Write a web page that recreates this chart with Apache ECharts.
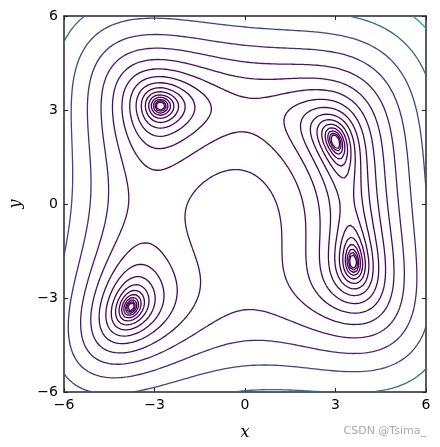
<!DOCTYPE html>
<html>
<head>
<meta charset="utf-8">
<script src="https://cdn.jsdelivr.net/npm/echarts@6/dist/echarts.min.js"></script>
<style>
html,body{margin:0;padding:0;background:#fff;}
#chart{width:440px;height:447px;}
</style>
</head>
<body>
<div id="chart"></div>
<script>
// ---- data ----
// Surface: Himmelblau function, f(x,y) = (x^2 + y - 11)^2 + (x + y^2 - 7)^2
const xRange = [-6, 6];
const yRange = [-6, 6];
const gridCount = 121;
// contour levels (log spaced)
const contourLevels = [0.68129, 1.1548, 1.9573, 3.3182, 5.6234, 9.5328, 16.155, 27.384, 46.416, 78.674,
  133.35, 226.06, 383.12, 649.38, 1100.7, 1865.6, 3162.3];
const colorRange = [0.01, 3162.3];
const xTickValues = [-6, -3, 0, 3, 6];
const yTickValues = [-6, -3, 0, 3, 6];
const xName = 'x';
const yName = 'y';
const watermark = 'CSDN @Tsima_';

function himmelblau(x, y) {
  const a = x * x + y - 11, b = x + y * y - 7;
  return a * a + b * b;
}

// viridis colormap stops
const viridis = ['#440154','#471365','#482475','#463480','#414487','#3b528b','#355f8d','#2f6c8e','#2a788e','#25848e','#21918c','#1e9c89','#22a884','#2fb47c','#44bf70','#5ec962','#7ad151','#9bd93c','#bddf26','#dfe318','#fde725'];
function hex2rgb(h){return [parseInt(h.substr(1,2),16),parseInt(h.substr(3,2),16),parseInt(h.substr(5,2),16)];}
function cmap(t){
  t = Math.max(0, Math.min(1, t));
  const p = t * (viridis.length - 1);
  const i = Math.min(Math.floor(p), viridis.length - 2);
  const f = p - i;
  const a = hex2rgb(viridis[i]), b = hex2rgb(viridis[i+1]);
  const c = a.map((v, k) => Math.round(v + (b[k] - v) * f));
  return 'rgb(' + c.join(',') + ')';
}

// ---- grid ----
const xs = [], ys = [];
for (let i = 0; i < gridCount; i++) {
  xs.push(xRange[0] + (xRange[1] - xRange[0]) * i / (gridCount - 1));
  ys.push(yRange[0] + (yRange[1] - yRange[0]) * i / (gridCount - 1));
}
const Z = [];
for (let j = 0; j < gridCount; j++) {
  const row = [];
  for (let i = 0; i < gridCount; i++) row.push(himmelblau(xs[i], ys[j]));
  Z.push(row);
}

// ---- marching squares ----
function contourLines(L) {
  const pts = {};
  const adj = {};
  function edgePoint(i0, j0, i1, j1) {
    const key = (i0 === i1 ? 'v' : 'h') + Math.min(i0, i1) + '_' + Math.min(j0, j1);
    if (!pts[key]) {
      const za = Z[j0][i0], zb = Z[j1][i1];
      const t = (L - za) / (zb - za);
      pts[key] = [xs[i0] + (xs[i1] - xs[i0]) * t, ys[j0] + (ys[j1] - ys[j0]) * t];
    }
    return key;
  }
  function link(a, b) {
    (adj[a] = adj[a] || []).push(b);
    (adj[b] = adj[b] || []).push(a);
  }
  for (let j = 0; j < gridCount - 1; j++) {
    for (let i = 0; i < gridCount - 1; i++) {
      const c = [[i, j], [i + 1, j], [i + 1, j + 1], [i, j + 1]];
      const above = c.map(p => Z[p[1]][p[0]] > L);
      const cross = [];
      for (let k = 0; k < 4; k++) {
        if (above[k] !== above[(k + 1) % 4]) cross.push(k);
      }
      if (cross.length === 2) {
        const ek = cross.map(k => { const a = c[k], b = c[(k + 1) % 4]; return edgePoint(a[0], a[1], b[0], b[1]); });
        link(ek[0], ek[1]);
      } else if (cross.length === 4) {
        const e = [0, 1, 2, 3].map(k => { const a = c[k], b = c[(k + 1) % 4]; return edgePoint(a[0], a[1], b[0], b[1]); });
        const center = (Z[j][i] + Z[j][i + 1] + Z[j + 1][i + 1] + Z[j + 1][i]) / 4 > L;
        if (center === above[0]) { link(e[0], e[1]); link(e[2], e[3]); }
        else { link(e[3], e[0]); link(e[1], e[2]); }
      }
    }
  }
  const used = {};
  const lines = [];
  function walk(start) {
    const path = [start];
    used[start] = true;
    let cur = start;
    while (true) {
      const nb = (adj[cur] || []).filter(n => !used[n]);
      if (!nb.length) {
        if ((adj[cur] || []).indexOf(start) >= 0 && path.length > 2) path.push(start);
        break;
      }
      cur = nb[0];
      used[cur] = true;
      path.push(cur);
    }
    return path.map(k => pts[k]);
  }
  Object.keys(adj).forEach(k => { if (!used[k] && adj[k].length === 1) lines.push(walk(k)); });
  Object.keys(adj).forEach(k => { if (!used[k]) lines.push(walk(k)); });
  return lines;
}

const lineData = [];
contourLevels.forEach(L => {
  const col = cmap((L - colorRange[0]) / (colorRange[1] - colorRange[0]));
  contourLines(L).forEach(path => {
    if (path.length > 1) lineData.push({ coords: path, lineStyle: { color: col } });
  });
});

const fmt = v => (v < 0 ? '\u2212' + Math.abs(v) : String(v));
const axisCommon = {
  type: 'value', min: -6, max: 6, interval: 3,
  splitLine: { show: false },
  axisLine: { show: true, onZero: false, lineStyle: { color: '#262626', width: 1.5 } },
  axisTick: { show: true, inside: true, length: 4, lineStyle: { color: '#262626', width: 1 } }
};
const labelStyle = { color: '#000', fontSize: 14, fontFamily: 'DejaVu Sans', margin: 6, formatter: fmt };

const chart = echarts.init(document.getElementById('chart'), null, { renderer: 'canvas' });
chart.setOption({
  animation: false,
  backgroundColor: '#fff',
  grid: { left: 62, right: 14, top: 16, bottom: 55, containLabel: false },
  xAxis: [
    Object.assign({}, axisCommon, {
      position: 'bottom',
      axisLabel: Object.assign({}, labelStyle, { customValues: xTickValues }),
      name: xName, nameLocation: 'middle', nameGap: 33,
      nameTextStyle: { fontFamily: 'DejaVu Serif', fontStyle: 'italic', fontSize: 16, color: '#000' }
    }),
    Object.assign({}, axisCommon, { position: 'top', axisLabel: { show: false } })
  ],
  yAxis: [
    Object.assign({}, axisCommon, {
      position: 'left',
      axisLabel: Object.assign({}, labelStyle, { customValues: yTickValues }),
      name: yName, nameLocation: 'middle', nameGap: 40, nameRotate: 90,
      nameTextStyle: { fontFamily: 'DejaVu Serif', fontStyle: 'italic', fontSize: 16, color: '#000' }
    }),
    Object.assign({}, axisCommon, { position: 'right', axisLabel: { show: false } })
  ],
  graphic: [{
    type: 'text', right: 14, top: 426,
    style: { text: watermark, fill: '#a8a8a8', fontSize: 11, fontFamily: 'DejaVu Sans' }
  }],
  series: [{
    type: 'lines',
    coordinateSystem: 'cartesian2d',
    xAxisIndex: 0, yAxisIndex: 0,
    polyline: true,
    silent: true,
    lineStyle: { width: 1.3, opacity: 1 },
    data: lineData
  }]
});
</script>
</body>
</html>
